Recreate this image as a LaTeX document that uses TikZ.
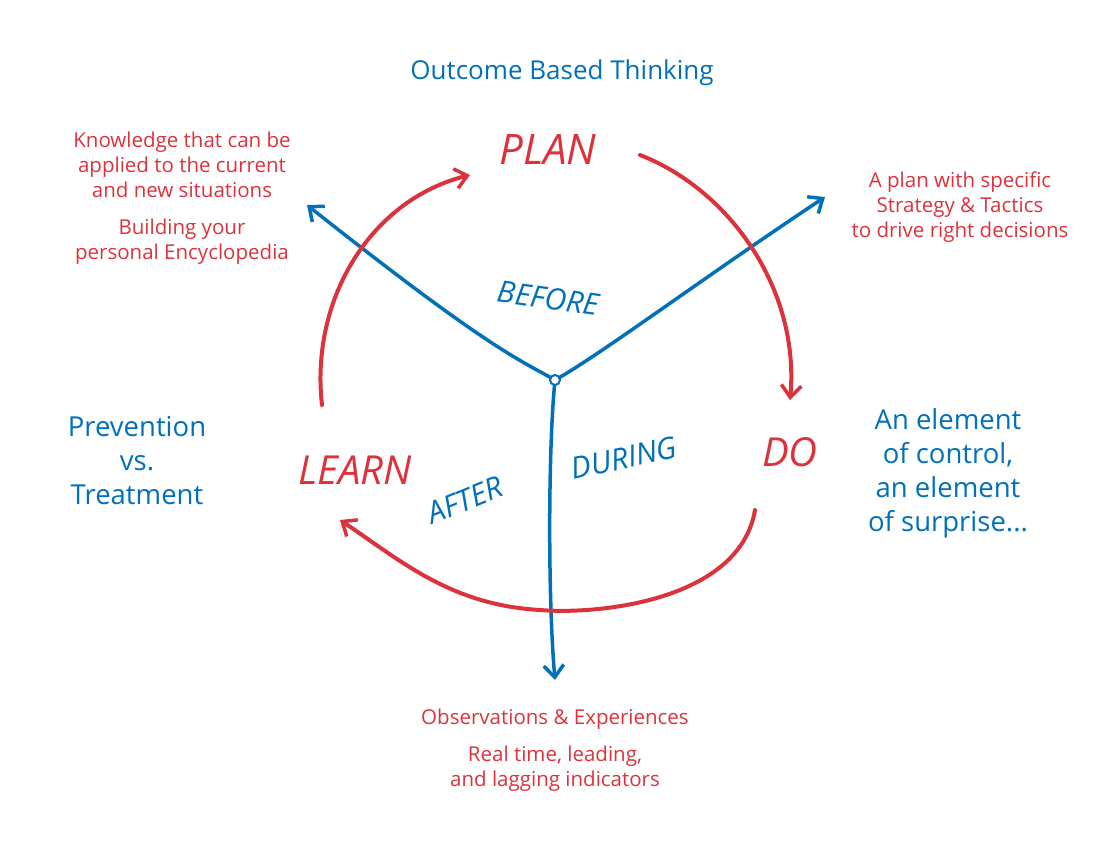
\documentclass[tikz,border=0pt]{standalone}
\usepackage{fontspec}
\setmainfont{Open Sans}
\usetikzlibrary{arrows.meta}
\definecolor{rd}{RGB}{220,50,60}
\definecolor{bl}{RGB}{0,112,185}
\begin{document}
\begin{tikzpicture}[x=1pt,y=-1pt,
 rl/.style={draw=rd,line width=4pt,line cap=round},
 bln/.style={draw=bl,line width=3.5pt,line cap=round},
 arr/.style={-{Straight Barb[length=12pt,width=20pt,line width=3.5pt]}},
 rt/.style={text=rd,font=\fontsize{20.5}{25}\selectfont,align=center},
 bt/.style={text=bl,font=\fontsize{27.5}{34}\selectfont,align=center},
 hw/.style={font=\fontsize{30}{30}\selectfont\itshape,inner sep=0}]
\useasboundingbox (0,0) rectangle (1100,850);
\node[text=bl,font=\fontsize{26}{30}\selectfont] (title) at (562,73) {Outcome Based Thinking};
\node[rt] (know) at (182,198) {Knowledge that can be\\applied to the current\\and new situations\\[12pt]Building your\\personal Encyclopedia};
\node[rt] (spec) at (960,207) {A plan with specific\\Strategy \& Tactics\\to drive right decisions};
\node[bt] (prev) at (137,461) {Prevention\\vs.\\Treatment};
\node[bt] (elem) at (948,473) {An element\\of control,\\an element\\of surprise...};
\node[rt] (obs) at (555,750) {Observations \& Experiences\\[12pt]Real time, leading,\\and lagging indicators};
\node[hw,text=rd,font=\fontsize{42}{42}\selectfont\itshape] (plan) at (548,150) {PLAN};
\node[hw,text=rd,font=\fontsize{40}{40}\selectfont\itshape] (do) at (790,452) {DO};
\node[hw,text=rd,font=\fontsize{40}{40}\selectfont\itshape] (learn) at (355,470) {LEARN};
\node[hw,text=bl,rotate=-8] (before) at (548,298) {BEFORE};
\node[hw,text=bl,rotate=12] (during) at (624,458) {DURING};
\node[hw,text=bl,rotate=22] (after) at (465,500) {AFTER};
\coordinate (c) at (555,380);
\coordinate (ul) at (307,205);
\coordinate (ur) at (825,197);
\coordinate (dn) at (555,680);
\draw[bln,arr] (c) .. controls (520,360) and (490,350) .. (ul);
\draw[bln,arr] (c) .. controls (600,355) and (700,280) .. (ur);
\draw[bln,arr] (c) .. controls (548,450) and (548,600) .. (dn);
\draw[draw=bl,line width=2pt,fill=white] (c) circle (5);
\draw[rl,arr] (640,155) .. controls (730,190) and (800,290) .. (790,400);
\draw[rl,arr] (755,510) .. controls (740,600) and (600,615) .. (540,610) .. controls (450,605) and (400,560) .. (340,520);
\draw[rl,arr] (322,405) .. controls (310,300) and (370,200) .. (470,175);
\end{tikzpicture}
\end{document}
